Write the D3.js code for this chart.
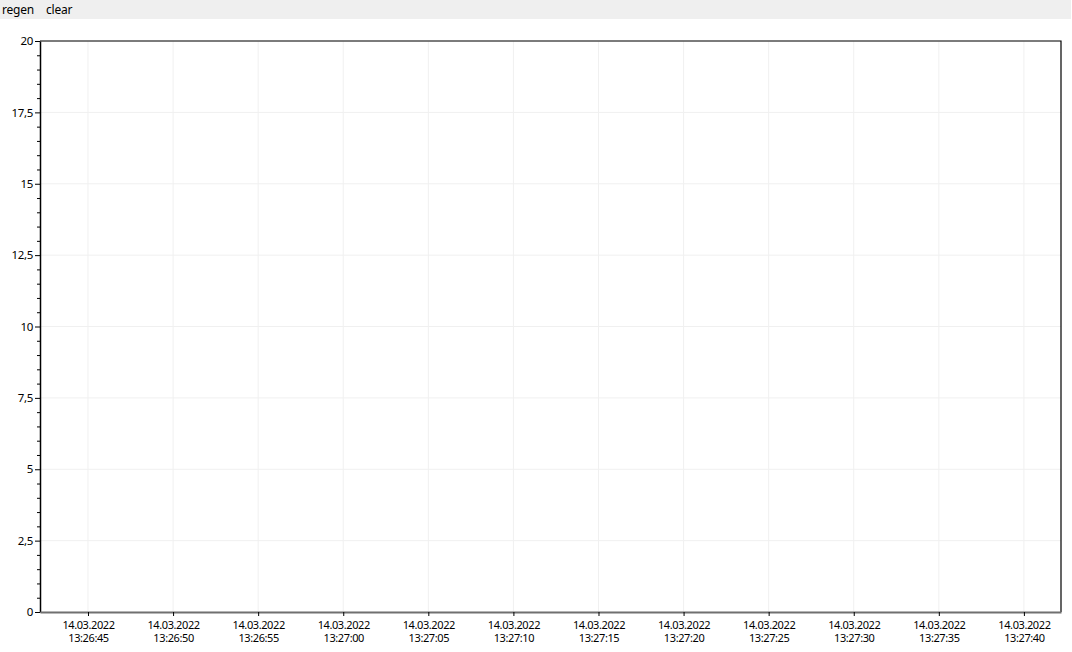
<!DOCTYPE html>
<html>
<head>
<meta charset="utf-8">
<script src="https://cdn.jsdelivr.net/npm/d3@7"></script>
<style>
  body { margin: 0; background: #fff; font-family: "Noto Sans", "Open Sans", sans-serif; }
  svg text { font-family: "Noto Sans", "Open Sans", sans-serif; }
</style>
</head>
<body>
<div id="myVis"></div>
<script>
// empty chart: only axes, grid and the small menu bar
var width = 1072;
var height = 652;
var margin = { left: 40, top: 41, right: 11, bottom: 40 };

var menuItems = ["regen", "clear"];
var yTicks = [0, 2.5, 5, 7.5, 10, 12.5, 15, 17.5, 20];
var yMinorStep = 0.5;
var xStart = new Date(2022, 2, 14, 13, 26, 42, 180);
var xEnd = new Date(2022, 2, 14, 13, 27, 42, 180);
var xTicks = ["13:26:45", "13:26:50", "13:26:55", "13:27:00", "13:27:05", "13:27:10",
  "13:27:15", "13:27:20", "13:27:25", "13:27:30", "13:27:35", "13:27:40"];
var xDate = "14.03.2022";

var canvas = d3
  .select("#myVis")
  .append("svg")
  .attr("width", width)
  .attr("height", height);

// menu bar
canvas.append("rect")
  .attr("x", 0).attr("y", 0)
  .attr("width", 1071).attr("height", 19)
  .attr("fill", "#efefef");

var menuX = [2, 46];
canvas.selectAll(".menu")
  .data(menuItems)
  .enter()
  .append("text")
  .attr("x", function (d, i) { return menuX[i]; })
  .attr("y", 14)
  .attr("font-size", 12)
  .attr("letter-spacing", -0.2)
  .attr("fill", "#000")
  .text(function (d) { return d; });

var x = d3.scaleTime()
  .domain([xStart, xEnd])
  .range([margin.left, width - margin.right]);

var y = d3.scaleLinear()
  .domain([0, 20])
  .range([height - margin.bottom, margin.top]);

var xTickDates = xTicks.map(function (t) {
  var p = t.split(":");
  return new Date(2022, 2, 14, +p[0], +p[1], +p[2]);
});

// grid
canvas.append("g")
  .selectAll("line")
  .data(yTicks)
  .enter()
  .append("line")
  .attr("x1", margin.left).attr("x2", width - margin.right)
  .attr("y1", function (d) { return y(d); })
  .attr("y2", function (d) { return y(d); })
  .attr("stroke", "#f0f0f0");

canvas.append("g")
  .selectAll("line")
  .data(xTickDates)
  .enter()
  .append("line")
  .attr("x1", function (d) { return x(d); })
  .attr("x2", function (d) { return x(d); })
  .attr("y1", margin.top).attr("y2", height - margin.bottom)
  .attr("stroke", "#f0f0f0");

// frame top / right
canvas.append("path")
  .attr("d", "M" + margin.left + "," + margin.top + "H" + (width - margin.right) + "V" + (height - margin.bottom))
  .attr("fill", "none")
  .attr("stroke", "#000")
  .attr("stroke-width", 1.2);

// y axis with minor ticks
var yMinor = d3.range(0, 20 + 0.001, yMinorStep).filter(function (v) { return v % 2.5 !== 0; });
var yAxisG = canvas.append("g")
  .attr("transform", "translate(" + margin.left + ",0)");
yAxisG.append("g")
  .call(d3.axisLeft(y).tickValues(yMinor).tickSize(3).tickFormat(""))
  .call(function (g) { g.select(".domain").remove(); });
yAxisG.append("g")
  .call(d3.axisLeft(y).tickValues(yTicks).tickSize(5).tickSizeOuter(0)
    .tickFormat(function (d) { return String(d).replace(".", ","); }))
  .call(function (g) {
    g.select(".domain").attr("stroke-width", 1.5);
    g.selectAll("text")
      .attr("font-size", 11.5)
      .attr("letter-spacing", -0.3)
      .attr("fill", "#000")
      .attr("x", -7);
  });

// x axis
var xAxisG = canvas.append("g")
  .attr("transform", "translate(0," + (height - margin.bottom) + ")")
  .call(d3.axisBottom(x).tickValues(xTickDates).tickSize(4).tickSizeOuter(0).tickFormat(""));
xAxisG.select(".domain").attr("stroke", "#707070").attr("stroke-width", 2);

var lbl = xAxisG.selectAll(".tick")
  .append("text")
  .attr("fill", "#000")
  .attr("font-size", 11)
  .attr("letter-spacing", -0.4)
  .attr("text-anchor", "middle");
lbl.append("tspan").attr("x", 0).attr("y", 17).text(xDate);
lbl.append("tspan").attr("x", 0).attr("y", 30).text(function (d, i) { return xTicks[i]; });
</script>
</body>
</html>
